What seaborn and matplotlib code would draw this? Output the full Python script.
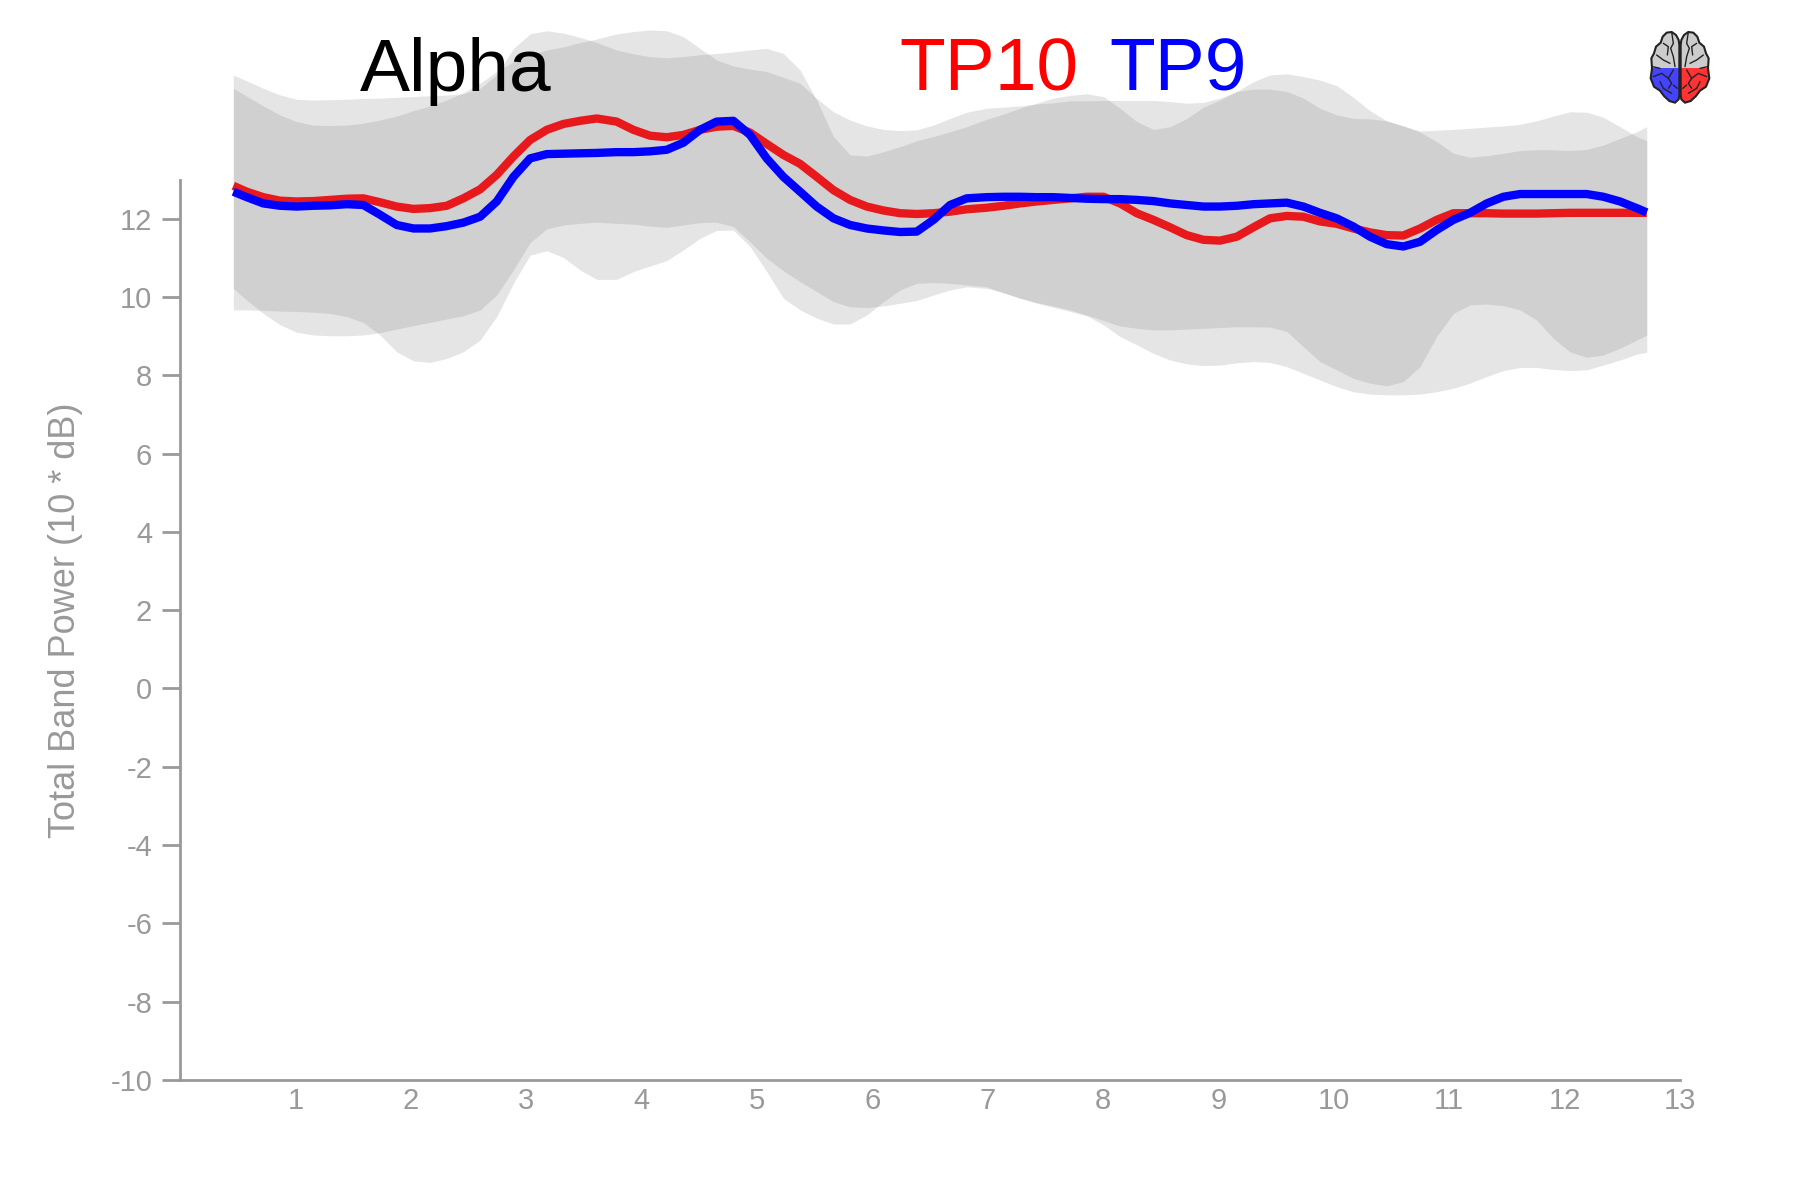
import numpy as np
import matplotlib
matplotlib.use("Agg")
import matplotlib.pyplot as plt
from matplotlib.patches import Polygon, Rectangle
import seaborn as sns

# ---- data ----
time_x = [0.462,0.578,0.722,0.867,1.011,1.156,1.300,1.445,1.589,1.734,1.878,2.023,2.167,2.312,2.456,2.601,2.745,2.890,3.034,3.179,3.323,3.468,3.612,
          3.784,3.929,4.073,4.218,4.362,4.507,4.651,4.796,4.940,5.085,5.229,5.374,5.518,5.663,5.807,5.952,6.096,6.241,6.385,6.530,6.674,6.818,
          6.991,7.136,7.280,7.425,7.569,7.714,7.858,8.003,8.147,8.292,8.436,8.581,8.725,8.870,9.014,9.159,9.303,9.447,9.592,9.736,
          9.880,10.024,10.169,10.313,10.458,10.602,10.747,10.891,11.036,11.180,11.325,11.469,11.614,11.758,11.903,12.047,12.191,12.336,12.480,12.625,12.712]
band1_upper = [15.67,15.52,15.33,15.16,15.05,15.03,15.04,15.05,15.07,15.08,15.10,15.12,15.14,15.16,15.19,15.33,15.67,16.35,16.72,16.80,16.74,16.63,16.50,
               16.31,16.21,16.14,16.11,16.14,16.19,16.22,16.26,16.31,16.35,16.22,15.80,15.03,14.10,13.63,13.60,13.71,13.84,13.99,14.10,14.22,14.35,
               14.54,14.67,14.82,14.95,15.08,15.15,15.19,15.12,14.82,14.48,14.28,14.35,14.56,14.85,15.03,15.25,15.50,15.67,15.70,15.63,
               15.54,15.40,15.10,14.76,14.50,14.37,14.21,13.97,13.67,13.57,13.61,13.67,13.74,13.76,13.76,13.74,13.77,13.88,14.05,14.22,14.35]
band2_upper = [15.33,15.13,14.88,14.65,14.48,14.39,14.38,14.39,14.44,14.52,14.62,14.76,14.88,15.03,15.22,15.46,15.76,16.01,16.18,16.31,16.39,16.50,16.59,
               16.72,16.78,16.82,16.80,16.65,16.35,16.05,15.90,15.82,15.76,15.61,15.46,15.07,14.73,14.52,14.37,14.28,14.25,14.27,14.39,14.56,14.72,
               14.82,14.85,14.88,14.93,14.96,15.01,15.01,15.02,15.02,15.02,15.02,14.99,14.95,14.97,15.08,15.25,15.31,15.31,15.25,15.08,
               14.82,14.65,14.56,14.55,14.50,14.37,14.24,14.26,14.28,14.31,14.34,14.37,14.41,14.50,14.62,14.73,14.72,14.59,14.35,14.10,13.99]
band2_lower = [10.22,9.92,9.58,9.29,9.10,9.03,9.01,9.01,9.03,9.09,9.18,9.27,9.35,9.44,9.52,9.67,10.05,10.69,11.39,11.74,11.84,11.88,11.91,
               11.88,11.86,11.81,11.78,11.84,11.90,11.91,11.80,11.41,10.99,10.67,10.39,10.14,9.88,9.75,9.73,9.77,9.84,9.91,10.05,10.18,10.26,
               10.22,10.11,9.97,9.84,9.74,9.63,9.52,9.29,8.99,8.78,8.56,8.39,8.29,8.25,8.26,8.32,8.35,8.33,8.22,8.05,
               7.88,7.71,7.58,7.52,7.50,7.50,7.52,7.58,7.67,7.80,7.97,8.12,8.20,8.20,8.15,8.12,8.14,8.26,8.39,8.54,8.59]
band1_lower = [9.67,9.67,9.66,9.64,9.63,9.61,9.58,9.50,9.35,9.03,8.60,8.37,8.33,8.43,8.60,8.90,9.50,10.35,11.07,11.18,11.01,10.69,10.45,
               10.45,10.65,10.79,10.93,11.20,11.50,11.70,11.71,11.29,10.65,9.97,9.67,9.46,9.31,9.31,9.54,9.88,10.18,10.35,10.37,10.35,10.31,
               10.26,10.11,9.97,9.86,9.77,9.67,9.54,9.40,9.26,9.20,9.16,9.16,9.18,9.20,9.22,9.24,9.24,9.23,9.12,8.73,
               8.35,8.14,7.92,7.80,7.73,7.84,8.22,8.99,9.58,9.80,9.82,9.78,9.67,9.41,8.94,8.60,8.46,8.52,8.69,8.90,9.03]
red_y = [12.84,12.69,12.55,12.46,12.44,12.45,12.48,12.51,12.52,12.42,12.31,12.25,12.27,12.33,12.52,12.75,13.12,13.59,14.01,14.27,14.42,14.50,14.56,
         14.48,14.27,14.12,14.08,14.14,14.27,14.35,14.37,14.20,13.91,13.63,13.40,13.07,12.73,12.48,12.31,12.21,12.14,12.12,12.14,12.18,12.24,
         12.28,12.33,12.39,12.44,12.48,12.52,12.56,12.56,12.39,12.14,11.97,11.78,11.58,11.46,11.44,11.54,11.78,12.01,12.07,12.05,
         11.93,11.87,11.75,11.65,11.58,11.57,11.75,11.97,12.14,12.14,12.14,12.13,12.13,12.13,12.14,12.15,12.15,12.15,12.15,12.15,12.15]
blue_y = [12.69,12.55,12.39,12.33,12.31,12.33,12.34,12.37,12.35,12.10,11.84,11.75,11.75,11.81,11.90,12.05,12.44,13.07,13.54,13.65,13.66,13.67,13.68,
          13.70,13.70,13.72,13.76,13.94,14.27,14.48,14.50,14.14,13.54,13.07,12.69,12.31,12.01,11.84,11.75,11.70,11.66,11.67,11.97,12.35,12.52,
          12.55,12.56,12.56,12.55,12.55,12.53,12.51,12.50,12.50,12.48,12.45,12.39,12.35,12.31,12.31,12.33,12.37,12.39,12.41,12.31,
          12.15,12.01,11.80,11.54,11.35,11.29,11.41,11.71,11.97,12.15,12.39,12.56,12.63,12.63,12.63,12.63,12.63,12.56,12.44,12.27,12.16]
x_ticks = list(range(1, 14))
y_ticks = list(range(-10, 14, 2))
title = "Alpha"
series_names = ["TP10", "TP9"]
y_label = "Total Band Power (10 * dB)"

W, H = 1800, 1200
sns.set_theme(style="white", rc={"axes.facecolor": "white"})
plt.rcParams["font.family"] = ["Liberation Sans", "DejaVu Sans"]
plt.rcParams["axes.unicode_minus"] = False
GREY = "#999999"

fig = plt.figure(figsize=(W / 100, H / 100), dpi=100, facecolor="white")
ax = fig.add_axes([180 / W, (H - 1080) / H, (1680 - 180) / W, 1080 / H])
ax.set_xlim(0, 13)
ax.set_ylim(-10, 17.586)

ax.fill_between(time_x, band1_lower, band1_upper, color="#808080", alpha=0.205, lw=0, zorder=1)
ax.fill_between(time_x, band2_lower, band2_upper, color="#808080", alpha=0.205, lw=0, zorder=1)
sns.lineplot(x=time_x, y=red_y, ax=ax, color="#e8191c", lw=6, zorder=3, errorbar=None,
             solid_capstyle="butt", solid_joinstyle="round")
sns.lineplot(x=time_x, y=blue_y, ax=ax, color="#0000ff", lw=6, zorder=4, errorbar=None,
             solid_capstyle="butt", solid_joinstyle="round")

for s in ["top", "right"]:
    ax.spines[s].set_visible(False)
for s in ["left", "bottom"]:
    ax.spines[s].set_color(GREY)
    ax.spines[s].set_linewidth(2.0)
ax.spines["left"].set_bounds(-10, 13)
ax.set_yticks(y_ticks)
ax.set_xticks(x_ticks)
ax.tick_params(axis="y", length=13, width=2.0, color=GREY, labelcolor=GREY, labelsize=21, pad=7, left=True)
ax.tick_params(axis="x", length=0, labelcolor=GREY, labelsize=21, pad=5, bottom=False)
ax.grid(False)

def ftext(px, py, s, **kw):
    fig.text(px / W, 1 - py / H, s, **kw)

ftext(360, 90.5, title, color="black", fontsize=54, ha="left", va="baseline")
ftext(899.5, 90.5, series_names[0], color="#ff0000", fontsize=54, ha="left", va="baseline")
ftext(1109, 90.5, series_names[1], color="#0000ff", fontsize=54, ha="left", va="baseline")
ftext(66, 620, y_label, color=GREY, fontsize=26, rotation=90, ha="center", va="center")

# ---- brain icon (decoration), drawn in its own little axes ----
brain = fig.add_axes([1640 / W, 1 - 110 / H, 80 / W, 90 / H])
brain.set_xlim(0, 240)
brain.set_ylim(270, 0)
brain.axis("off")
outline = [(116,60),(108,45),(95,36),(80,38),(68,50),(62,68),(48,80),(42,100),(34,115),(36,145),(32,175),
           (42,200),(60,212),(72,228),(88,243),(105,248),(116,238),(118,225),(118,75)]
sulci = [[(95,36),(100,70),(92,85),(100,110),(105,140)], [(70,70),(85,80),(82,105)], [(50,105),(70,120),(90,130)],
         [(40,170),(65,160),(85,175),(95,190),(85,205)], [(60,185),(70,205),(95,220)], [(100,150),(85,175)],
         [(38,140),(60,145)], [(100,195),(112,205)]]
for mirror, low in [(False, "#4444ff"), (True, "#ff3333")]:
    pts = [(240 - x, y) if mirror else (x, y) for x, y in outline]
    edge = Polygon(pts, closed=True, fc="none", ec="#222222", lw=1.5, zorder=5)
    brain.add_patch(edge)
    for yy, hh, c in [(20, 123, "#cccccc"), (143, 115, low)]:
        r = Rectangle((20, yy), 200, hh, fc=c, ec="none", zorder=2)
        brain.add_patch(r)
        r.set_clip_path(edge)
    for line in sulci:
        xs = [240 - p[0] if mirror else p[0] for p in line]
        ys = [p[1] for p in line]
        brain.plot(xs, ys, color="#222222", lw=1.0, zorder=4)

fig.savefig("out.png", dpi=100, facecolor="white")
